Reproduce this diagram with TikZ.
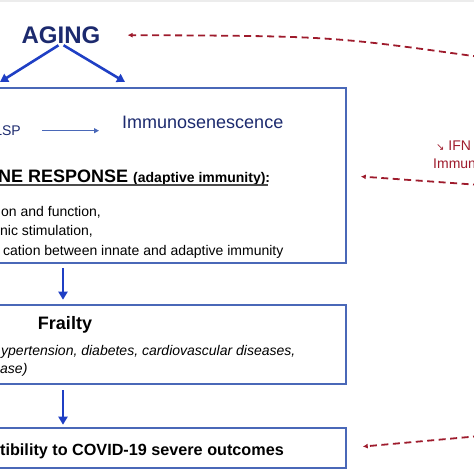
\documentclass[tikz,border=0pt]{standalone}
\usepackage{fontspec}
\setmainfont{Liberation Sans}
\newfontfamily\arrowfont{DejaVu Sans}
\usetikzlibrary{arrows.meta,positioning}

\definecolor{navy}{HTML}{1C2A6E}
\definecolor{boxblue}{HTML}{4A68B8}
\definecolor{arrowblue}{HTML}{1F3FC4}
\definecolor{darkred}{HTML}{9E1B2C}

\begin{document}
\begin{tikzpicture}[x=1pt,y=-1pt,
    box/.style={draw=boxblue,line width=1.6pt,minimum width=562pt,inner sep=0pt},
    bodytext/.style={inner sep=0pt,anchor=base west,font=\fontsize{14}{17}\selectfont},
    flow/.style={arrowblue,line width=2.6pt,-{Triangle[length=8pt,width=9pt]}},
    link/.style={boxblue,line width=1pt,-{Triangle[length=5pt,width=5pt]}},
    feedback/.style={darkred,line width=1.8pt,dash pattern=on 7pt off 4.5pt,-{Latex[length=5pt,width=5pt]}}]
    \useasboundingbox (0,0) rectangle (474,474);
    \clip (0,0) rectangle (474,474);
    \fill[gray!15] (0,0) rectangle (474,2);

    % boxes
    \node[box,minimum height=175pt] (immune)  at (65,175.5) {};
    \node[box,minimum height=79pt]  (frailty) at (65,344.5) {};
    \node[box,minimum height=40pt]  (covid)   at (65,448)   {};

    \node[inner sep=0pt,anchor=base,text=navy,font=\fontsize{24}{28}\selectfont\bfseries] (aging) at (61,43.3) {AGING};
    \coordinate (toleft)  at (0,82);
    \coordinate (toright) at (125,82);

    % first box
    \node[inner sep=0pt,anchor=base east,text=navy,font=\fontsize{14}{17}\selectfont] (lsp) at (21,135.5) {LSP};
    \node[inner sep=0pt,anchor=base west,text=navy,font=\fontsize{18}{21}\selectfont] (senescence) at (122,128.3) {Immunosenescence};
    \node[inner sep=0pt,anchor=base west,font=\fontsize{18}{21}\selectfont\bfseries] (response) at (-2,182)
        {NE RESPONSE \fontsize{14}{17}\selectfont(adaptive immunity):};
    \draw[gray!60!black,line width=1.3pt] ([yshift=-3pt]response.base west) -- ([yshift=-3pt,xshift=-2pt]response.base east);
    \node[bodytext] (resp1) at (1,216) {on and function,};
    \node[bodytext] (resp2) at (0,235) {nic stimulation,};
    \node[bodytext] (resp3) at (3,255) {cation between innate and adaptive immunity};

    % second box
    \node[inner sep=0pt,anchor=base,font=\fontsize{18}{21}\selectfont\bfseries] (frailtitle) at (65,329.5) {Frailty};
    \node[bodytext,font=\fontsize{14}{17}\selectfont\itshape] (frail1) at (1,355.7) {ypertension, diabetes, cardiovascular diseases,};
    \node[bodytext,font=\fontsize{14}{17}\selectfont\itshape] (frail2) at (0,373) {ase)};

    % third box
    \node[bodytext,font=\fontsize{16.2}{19}\selectfont\bfseries] (outcome) at (0,455.7) {tibility to COVID-19 severe outcomes};

    % right side
    \node[bodytext,text=darkred] (ifn) at (436,150) {{\arrowfont\fontsize{10}{12}\selectfont ↘} IFN};
    \node[bodytext,text=darkred] (immun) at (433,168) {Immun};
    \coordinate (fbtop) at (480,57);
    \coordinate (fbmid) at (480,185);
    \coordinate (fbbot) at (480,436);

    \draw[flow,shorten <=3pt] (aging.south) -- (toleft);
    \draw[flow,shorten <=3pt] (aging.south) -- (toright);
    \draw[link,shorten <=21pt,shorten >=23pt] (lsp.east) -- (lsp.east -| senescence.west);
    \draw[flow,shorten <=4.5pt,shorten >=4.5pt] ([xshift=-2pt]immune.south) -- ([xshift=-2pt]frailty.north);
    \draw[flow,shorten <=5.5pt,shorten >=2.5pt] ([xshift=-2pt]frailty.south) -- ([xshift=-2pt]covid.north);

    \draw[feedback,shorten >=27pt] (fbtop) .. controls (330,36) .. (aging.east);
    \draw[feedback,shorten >=14pt] (fbmid) -- (immune.east);
    \draw[feedback,shorten >=16pt] (fbbot) -- (covid.east);
\end{tikzpicture}
\end{document}
